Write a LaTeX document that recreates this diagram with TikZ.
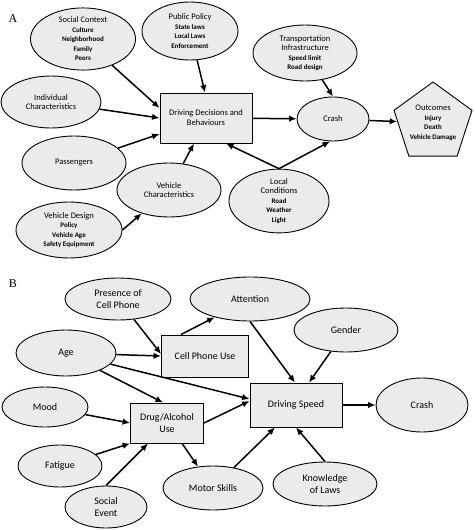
\documentclass[tikz,border=0pt]{standalone}
\usepackage{fontspec}
\setmainfont{Carlito}
\newfontfamily\panelfont{Liberation Serif}
\usetikzlibrary{positioning,shapes.geometric,shapes.misc,arrows.meta}
\definecolor{shade}{HTML}{EBEBEB}
\newcommand{\subline}{\fontsize{7}{8}\selectfont\bfseries}

\begin{document}
\begin{tikzpicture}[%
    x=1pt,
    y=-1pt,
    >={Latex[length=7.5pt,width=6.5pt]},
    bubble/.style={%
      ellipse,
      draw,
      line width=0.9pt,
      fill=shade,
      inner sep=0pt,
      align=center,
      font=\fontsize{8.5}{9.5}\selectfont
    },
    block/.style={%
      rectangle,
      draw,
      line width=0.9pt,
      fill=shade,
      inner sep=0pt,
      align=center,
      font=\fontsize{8.5}{10}\selectfont
    },
    big/.style={font=\fontsize{10}{12}\selectfont},
    link/.style={->, line width=1.5pt}
  ]
    \useasboundingbox (0,0) rectangle (474,530);

    % panel A
    \node[font=\panelfont\fontsize{12}{12}\selectfont] (labA) at (13,19) {A};
    \node[bubble, minimum width=105pt, minimum height=54pt] (soc) at (83,39)
      {Social Context\\\subline Culture\\\subline Neighborhood\\\subline Family\\\subline Peers};
    \node[bubble, minimum width=96pt, minimum height=58pt] (pub) at (190,31)
      {Public Policy\\\subline State laws\\\subline Local Laws\\\subline Enforcement};
    \node[bubble, minimum width=100pt, minimum height=52pt] (ind) at (51,102)
      {Individual\\Characteristics};
    \node[block, minimum width=92pt, minimum height=50pt] (ddb) at (206,118)
      {Driving Decisions and\\Behaviours};
    \node[bubble, minimum width=104pt, minimum height=54pt] (pas) at (74,163) {Passengers};
    \node[bubble, minimum width=104pt, minimum height=54pt] (vch) at (169,190)
      {Vehicle\\Characteristics};
    \node[bubble, minimum width=106pt, minimum height=56pt] (vds) at (69,230)
      {Vehicle Design\\\subline Policy\\\subline Vehicle Age\\\subline Safety Equipment};
    \node[bubble, minimum width=100pt, minimum height=56pt] (loc) at (279,201)
      {Local\\Conditions\\\subline Road\\\subline Weather\\\subline Light};
    \node[bubble, minimum width=104pt, minimum height=56pt] (tra) at (305,53)
      {Transportation\\Infrastructure\\\subline Speed limit\\\subline Road design};
    \node[bubble, minimum width=72pt, minimum height=44pt] (crA) at (333,119) {Crash};
    \node[regular polygon, regular polygon sides=5, draw, line width=0.9pt, fill=shade,
      inner sep=0pt, minimum size=82pt, align=center,
      font=\fontsize{8.5}{9.5}\selectfont] (out) at (433,123)
      {Outcomes\\\subline Injury\\\subline Death\\\subline Vehicle Damage};

    \path (soc) edge[link] ([yshift=10pt]ddb.west)
          (pub) edge[link] ([xshift=-1pt]ddb.north)
          (ind) edge[link] (ddb.west)
          (pas) edge[link] ([yshift=-16pt]ddb.west)
          (vch) edge[link] ([xshift=-12pt]ddb.south)
          (vds.east) edge[link] (vch)
          (loc.north) edge[link] ([xshift=20pt]ddb.south)
          (loc.north) edge[link] ([xshift=-3pt]crA.south)
          (tra) edge[link] (crA.north)
          (ddb) edge[link] (crA)
          (crA) edge[link] (out);

    % panel B
    \node[font=\panelfont\fontsize{12}{12}\selectfont] (labB) at (13,284) {B};
    \node[bubble, big, minimum width=106pt, minimum height=42pt] (pcp) at (118,299)
      {Presence of\\Cell Phone};
    \node[bubble, big, minimum width=120pt, minimum height=44pt] (att) at (250,299) {Attention};
    \node[bubble, big, minimum width=100pt, minimum height=46pt] (age) at (66,353) {Age};
    \node[block, big, minimum width=87pt, minimum height=42pt] (cpu) at (205,356) {Cell Phone Use};
    \node[bubble, big, minimum width=104pt, minimum height=44pt] (gen) at (346,330) {Gender};
    \node[block, big, minimum width=92pt, minimum height=44pt] (dsp) at (296,405) {Driving Speed};
    \node[bubble, big, minimum width=92pt, minimum height=54pt] (crB) at (422,405) {Crash};
    \node[bubble, big, minimum width=86pt, minimum height=40pt] (mood) at (45,407) {Mood};
    \node[block, big, minimum width=73pt, minimum height=40pt] (dru) at (167,423)
      {Drug/Alcohol\\Use};
    \node[bubble, big, minimum width=84pt, minimum height=42pt] (fat) at (60,466) {Fatigue};
    \node[bubble, big, minimum width=82pt, minimum height=42pt] (sev) at (106,507)
      {Social\\Event};
    \node[bubble, big, minimum width=100pt, minimum height=44pt] (mot) at (213,488) {Motor Skills};
    \node[bubble, big, minimum width=104pt, minimum height=44pt] (kno) at (325,484)
      {Knowledge\\of Laws};

    \path (pcp) edge[link] ([yshift=2pt]cpu.west)
          (age) edge[link] (cpu.west)
          ([xshift=-24pt]cpu.north) edge[link] (att)
          (att.south) edge[link] ([xshift=-1pt]dsp.north)
          (gen) edge[link] ([xshift=13pt]dsp.north)
          (age) edge[link] ([yshift=6pt]dsp.west)
          (age) edge[link] ([xshift=-4pt]dru.north)
          (dru.east) edge[link] ([yshift=4pt]dsp.west)
          (mood) edge[link] (dru.west)
          (fat) edge[link] (dru.south west)
          (sev.north) edge[link] ([xshift=-19pt]dru.south)
          ([xshift=15pt]dru.south) edge[link] (mot)
          (mot) edge[link] ([xshift=-21pt]dsp.south)
          (kno.north) edge[link] (dsp.south)
          (dsp) edge[link] (crB);
\end{tikzpicture}
\end{document}
